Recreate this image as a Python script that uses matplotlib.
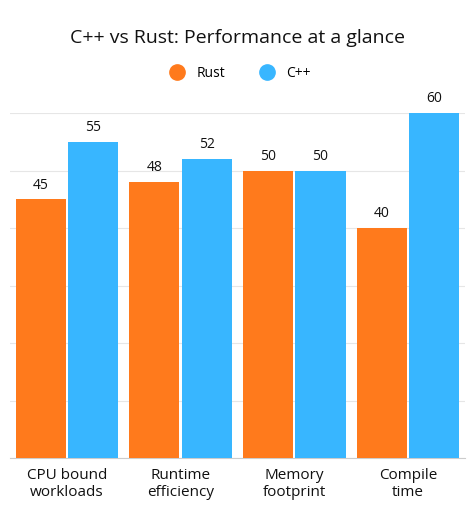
import matplotlib.pyplot as plt
import numpy as np

plt.rcParams['font.family'] = ['Open Sans', 'DejaVu Sans']

categories = ["CPU bound\nworkloads", "Runtime\nefficiency", "Memory\nfootprint", "Compile\ntime"]
rust = [45, 48, 50, 40]
cpp = [55, 52, 50, 60]

ORANGE = '#FF7A1C'
BLUE = '#38B6FF'

fig = plt.figure(figsize=(4.74, 5.17), dpi=100)
ax = fig.add_axes([0.021, 0.114, 0.96, 0.667])

x = np.arange(len(categories))
w = 0.44
b1 = ax.bar(x - w / 2 - 0.01, rust, w, color=ORANGE, label='Rust', zorder=3)
b2 = ax.bar(x + w / 2 + 0.01, cpp, w, color=BLUE, label='C++', zorder=3)
for bars in (b1, b2):
    for r in bars:
        ax.text(r.get_x() + r.get_width() / 2, r.get_height() + 1.2, f"{int(r.get_height())}",
                ha='center', va='bottom', fontsize=10, color='#111111', clip_on=False)

ax.set_xlim(-0.5, len(categories) - 0.5)
ax.set_ylim(0, 60)
ax.set_yticks(range(0, 61, 10))
ax.yaxis.grid(True, color='#e6e6e6', linewidth=0.8, zorder=0)
ax.tick_params(left=False, labelleft=False, bottom=False)
ax.set_xticks(x)
ax.set_xticklabels(categories, fontsize=11, color='#111111')
for s in ['top', 'right', 'left']:
    ax.spines[s].set_visible(False)
ax.spines['bottom'].set_color('#cccccc')

fig.text(0.5, 0.927, "C++ vs Rust: Performance at a glance", ha='center', va='center',
         fontsize=14, color='#111111')
fig.legend(handles=[b1, b2], loc='center', bbox_to_anchor=(0.5, 0.858), ncol=2, frameon=False,
           fontsize=10, handlelength=1.0, handleheight=1.0, columnspacing=2.0,
           handler_map=None)
# round legend markers
leg = fig.legends[0]
for h in leg.legend_handles:
    h.set_visible(False)
from matplotlib.lines import Line2D
fig.legends.clear()
hs = [Line2D([], [], marker='o', ls='', color=ORANGE, markersize=11),
      Line2D([], [], marker='o', ls='', color=BLUE, markersize=11)]
fig.legend(hs, ['Rust', 'C++'], loc='center', bbox_to_anchor=(0.5, 0.858), ncol=2, frameon=False,
           fontsize=10, handletextpad=0.4, columnspacing=2.0)

fig.savefig('out.png', dpi=100)
